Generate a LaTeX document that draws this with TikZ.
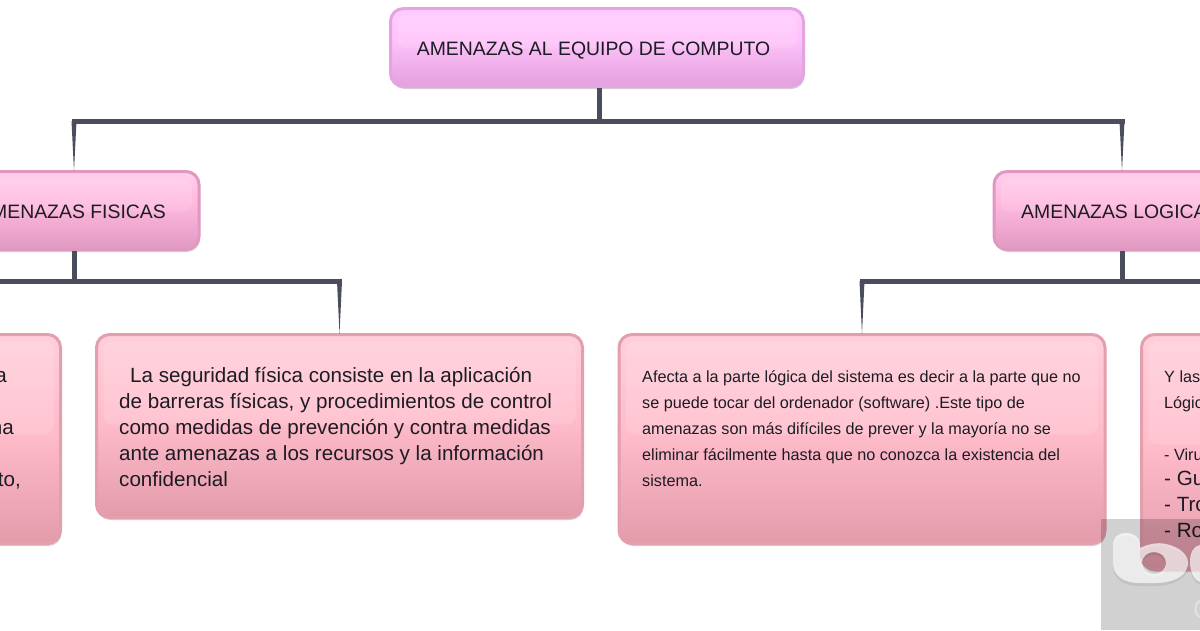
\documentclass[tikz,border=0pt]{standalone}
\usepackage{fontspec}
\setmainfont{Liberation Sans}
\usetikzlibrary{shadows}
\definecolor{linec}{HTML}{4A4E5C}
\definecolor{txt}{HTML}{1C1C24}
\definecolor{ma}{HTML}{FFCCFF}\definecolor{mb}{HTML}{FFC2FA}\definecolor{mc}{HTML}{E2A0DE}\definecolor{md}{HTML}{E5A3E0}
\definecolor{pa}{HTML}{FFCFEC}\definecolor{pb}{HTML}{FFB8DE}\definecolor{pc}{HTML}{E09AC2}\definecolor{pd}{HTML}{E098C0}
\definecolor{ra}{HTML}{FFCFDA}\definecolor{rb}{HTML}{FFBCCB}\definecolor{rc}{HTML}{E39BAA}\definecolor{rd}{HTML}{E39FAC}
\pgfdeclareverticalshading{shm}{100bp}{color(0bp)=(mc);color(25bp)=(mc);color(55bp)=(mb);color(75bp)=(ma);color(100bp)=(ma)}
\pgfdeclareverticalshading{shp}{100bp}{color(0bp)=(pc);color(25bp)=(pc);color(55bp)=(pb);color(75bp)=(pa);color(100bp)=(pa)}
\pgfdeclareverticalshading{shr}{100bp}{color(0bp)=(rc);color(25bp)=(rc);color(52bp)=(rb);color(75bp)=(ra);color(100bp)=(ra)}
\tikzset{
  x=1pt,y=-1pt,
  boxbase/.style={rounded corners=13pt,line width=3pt,minimum width=#1,inner sep=0pt,
    drop shadow={shadow xshift=1pt,shadow yshift=-2.5pt,opacity=.18,fill=black},
    text=txt,font=\fontsize{20}{26}\selectfont},
  magbox/.style={boxbase=#1,draw=md,shading=shm},
  pinkbox/.style={boxbase=#1,draw=pd,shading=shp},
  rosebox/.style={boxbase=#1,draw=rd,shading=shr},
  shine/.style={path picture={\fill[white,opacity=.13,rounded corners=9pt]
    ([shift={(7pt,-7pt)}]path picture bounding box.north west) rectangle
    ([shift={(-7pt,#1)}]path picture bounding box.north east);}},
  para/.style={anchor=north west,align=left,inner sep=0pt,text=txt,font=\fontsize{#1}{26}\selectfont},
  title/.style={inner sep=0pt,text=txt,font=\fontsize{19.4}{26}\selectfont},
  side/.style={anchor=base east,inner sep=0pt,text=txt,font=\fontsize{20.6}{26}\selectfont},
  stem/.style={draw=linec,line width=5pt,line cap=butt,line join=miter},
  bus/.style={stem,shorten <=-2.5pt,shorten >=-2.5pt},
  taper/.style={fill=linec,draw=none},
  mark white/.style={fill=white,opacity=.68},
}
\begin{document}
\begin{tikzpicture}
\useasboundingbox (0,0) rectangle (1200,630);
\clip (0,0) rectangle (1200,630);
% nodes
\node[magbox=413pt,minimum height=78pt,shine=-40pt] (top) at (597,47.5) {};
\node[pinkbox=250pt,minimum height=78pt,shine=-40pt] (fis) at (74,210.5) {};
\node[pinkbox=256pt,minimum height=78pt,shine=-40pt] (log) at (1122,210.5) {};
\node[rosebox=485pt,minimum height=209pt,shine=-100pt] (a) at (-182,439) {};
\node[rosebox=486pt,minimum height=183pt,shine=-90pt] (b) at (339.5,426) {};
\node[rosebox=486pt,minimum height=209pt,shine=-100pt] (c) at (862,439) {};
\node[rosebox=485pt,minimum height=235pt,shine=-110pt] (d) at (1384,452) {};
% connector coordinates
\coordinate (topout) at ([xshift=2pt]top.south);
\coordinate (busT) at (topout |- 0,121);
\coordinate (busF) at (fis.south |- 0,281);
\coordinate (busL) at (log.south |- 0,281);
% connectors
\draw[stem] (topout) -- (busT);
\draw[stem] (fis.south) -- (busF);
\draw[stem] (log.south) -- (busL);
\draw[bus] (fis.north |- busT) -- (log.north |- busT);
\draw[bus] (a.north |- busF) -- (b.north |- busF);
\draw[bus] (c.north |- busF) -- (d.north |- busF);
\fill[taper] ([xshift=-2.5pt]fis.north |- busT) -- ([xshift=2.5pt]fis.north |- busT) -- ([yshift=-1pt]fis.north) -- cycle;
\fill[taper] ([xshift=-2.5pt]log.north |- busT) -- ([xshift=2.5pt]log.north |- busT) -- ([yshift=-1pt]log.north) -- cycle;
\fill[taper] ([xshift=-2.5pt]b.north |- busF) -- ([xshift=2.5pt]b.north |- busF) -- ([yshift=-1pt]b.north) -- cycle;
\fill[taper] ([xshift=-2.5pt]c.north |- busF) -- ([xshift=2.5pt]c.north |- busF) -- ([yshift=-1pt]c.north) -- cycle;
% texts
\node[title,anchor=base] (ttop) at (593.5,55) {AMENAZAS AL EQUIPO DE COMPUTO};
\node[title,anchor=base east] (tfis) at (166,218) {AMENAZAS FISICAS};
\node[title,anchor=base west] (tlog) at (1021,218) {AMENAZAS LOGICAS};
\node[para=20.6] (tb) at (119,367.5) {\hspace*{11pt}La seguridad física consiste en la aplicación\\de barreras físicas, y procedimientos de control\\como medidas de prevención y contra medidas\\ante amenazas a los recursos y la información\\confidencial};
\node[para=16.2] (tc) at (642,370.5) {Afecta a la parte lógica del sistema es decir a la parte que no\\se puede tocar del ordenador (software) .Este tipo de\\amenazas son más difíciles de prever y la mayoría no se\\eliminar fácilmente hasta que no conozca la existencia del\\sistema.};
\node[side] (ta1) at (7,382) {a};
\node[side] (ta2) at (14,434) {na};
\node[side] (ta3) at (21,486) {to,};
\node[para=16.2] (td1) at (1164,370.5) {Y las\\Lógicas\\\\- Virus};
\node[para=20.6] (td2) at (1164,471) {- Gusanos\\- Troyanos\\- Rootkits};
% watermark
\fill[black,opacity=.18] (1101,519) rectangle (1200,630);
\def\wmb{(1113,546) .. controls (1113,537) and (1118,533) .. (1126,533) .. controls (1134,533) and (1140,537) .. (1140,546) -- (1140,548)
  .. controls (1148,544) and (1158,542) .. (1166,544) .. controls (1180,547) and (1189,555) .. (1188,565)
  .. controls (1186,578) and (1170,583) .. (1155,583) -- (1140,583) .. controls (1122,583) and (1113,575) .. (1113,562) -- cycle
  (1142,563) .. controls (1142,557) and (1147,552) .. (1154,552) .. controls (1161,552) and (1166,557) .. (1166,563) .. controls (1166,569) and (1161,574) .. (1154,574) .. controls (1147,574) and (1142,569) .. (1142,563) -- cycle}
\def\wmu{(1200,545) .. controls (1194,546) and (1190,552) .. (1190,562) .. controls (1190,572) and (1194,580) .. (1200,582) -- cycle}
\begin{scope}[shift={(0,3)}]
\fill[black,opacity=.07,even odd rule] \wmb;
\fill[black,opacity=.07] \wmu;
\end{scope}
\fill[mark white,even odd rule] \wmb;
\fill[mark white] \wmu;
\draw[white,opacity=.35,line width=2pt] (1200,601) .. controls (1194,603) and (1194,615) .. (1200,617);
\end{tikzpicture}
\end{document}
